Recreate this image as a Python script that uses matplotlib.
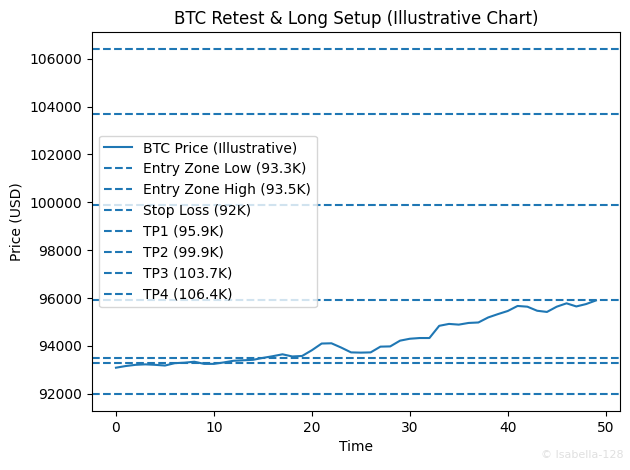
import matplotlib
matplotlib.use("Agg")
import matplotlib.pyplot as plt
import numpy as np

# ---- data ----
time = np.arange(50)
price = [93090, 93160, 93210, 93230, 93210, 93180, 93280, 93300, 93340, 93250,
         93250, 93310, 93380, 93400, 93420, 93500, 93570, 93650, 93560, 93580,
         93820, 94100, 94110, 93930, 93730, 93720, 93730, 93970, 93980, 94220,
         94300, 94330, 94330, 94840, 94920, 94890, 94960, 94980, 95190, 95330,
         95460, 95670, 95640, 95470, 95420, 95640, 95780, 95650, 95750, 95900]

level_labels = ["Entry Zone Low (93.3K)", "Entry Zone High (93.5K)", "Stop Loss (92K)",
                "TP1 (95.9K)", "TP2 (99.9K)", "TP3 (103.7K)", "TP4 (106.4K)"]
level_values = [93300, 93500, 92000, 95900, 99900, 103700, 106400]

fig, ax = plt.subplots(figsize=(6.3, 4.7), dpi=100)

ax.plot(time, price, label="BTC Price (Illustrative)")
for lab, val in zip(level_labels, level_values):
    ax.axhline(val, linestyle="--", label=lab)

ax.set_title("BTC Retest & Long Setup (Illustrative Chart)")
ax.set_xlabel("Time")
ax.set_ylabel("Price (USD)")
ax.legend(loc="center left")

fig.subplots_adjust(left=0.146, right=0.984, top=0.932, bottom=0.1255)
fig.text(0.99, 0.022, "\u00a9 Isabella-128", ha="right", va="bottom",
         fontsize=8, color="#e0e0e0")
fig.savefig("out.png", dpi=100)
